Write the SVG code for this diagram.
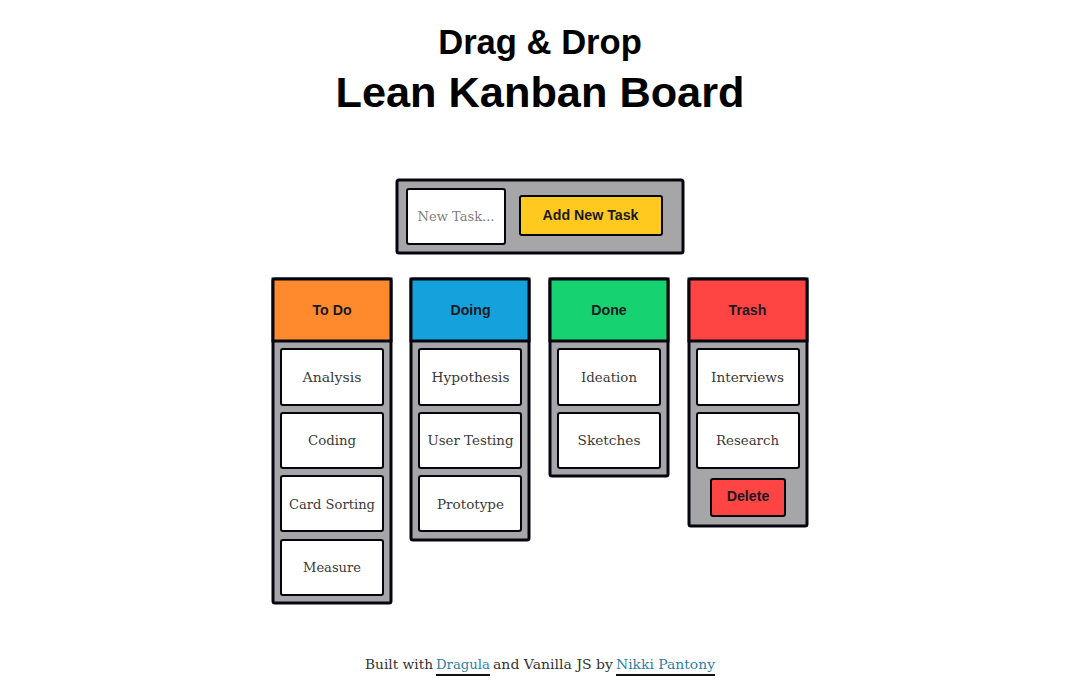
<svg xmlns="http://www.w3.org/2000/svg" width="1080" height="685" viewBox="0 0 1080 685">
<style>
.t{font-family:"Liberation Sans",Arial,sans-serif;font-weight:700;text-anchor:middle;fill:#000}
.box{fill:#a6a6a8;stroke:#05050f;stroke-width:3}
.card{fill:#fff;stroke:#05050f;stroke-width:2}
.hd{stroke:#05050f;stroke-width:3}
.lb{font-family:"Liberation Sans",Arial,sans-serif;font-weight:700;font-size:14.2px;text-anchor:middle;fill:#1a1a22}
.s{font-family:"DejaVu Serif",serif;font-size:13.5px;text-anchor:middle;fill:#3a3a3a}
.f{font-family:"DejaVu Serif",serif;font-size:13.5px;fill:#333}
.a{fill:#2f7fa8}
.u{stroke:#111;stroke-width:2}
</style>
<rect width="1080" height="685" fill="#fff"/>
<g id="title">
<text class="t" x="540" y="54" font-size="34.600">Drag &amp; Drop</text>
<text class="t" x="540" y="106.500" font-size="43.300">Lean Kanban Board</text>
</g>
<g id="new-task">
<rect class="box" x="397" y="180" width="286" height="73" rx="2"/>
<rect class="card" x="407" y="189" width="98" height="55" rx="2"/>
<text x="456" y="221" text-anchor="middle" font-family="DejaVu Serif,serif" font-size="13.5" fill="#808080" textLength="77" lengthAdjust="spacingAndGlyphs">New Task...</text>
<rect x="520" y="196" width="142" height="39" rx="2" fill="#ffc91f" stroke="#05050f" stroke-width="2"/>
<text class="lb" x="590.500" y="220">Add New Task</text>
</g>
<g id="col-todo">
<rect class="box" x="273" y="279" width="118" height="324" rx="2"/>
<rect class="hd" x="273" y="279" width="118" height="62" fill="#ff8a2e"/>
<text class="lb" x="332" y="315">To Do</text>
<rect class="card" x="281" y="349" width="102" height="56" rx="2"/><text class="s" x="332" y="382" textLength="59" lengthAdjust="spacingAndGlyphs">Analysis</text>
<rect class="card" x="281" y="413" width="102" height="55" rx="2"/><text class="s" x="332" y="445" textLength="48" lengthAdjust="spacingAndGlyphs">Coding</text>
<rect class="card" x="281" y="476" width="102" height="55" rx="2"/><text class="s" x="332" y="509" textLength="86" lengthAdjust="spacingAndGlyphs">Card Sorting</text>
<rect class="card" x="281" y="540" width="102" height="55" rx="2"/><text class="s" x="332" y="572" textLength="58" lengthAdjust="spacingAndGlyphs">Measure</text>
</g>
<g id="col-doing">
<rect class="box" x="411" y="279" width="118" height="261" rx="2"/>
<rect class="hd" x="411" y="279" width="118" height="62" fill="#15a2dc"/>
<text class="lb" x="470.500" y="315">Doing</text>
<rect class="card" x="419" y="349" width="102" height="56" rx="2"/><text class="s" x="470.500" y="382" textLength="78" lengthAdjust="spacingAndGlyphs">Hypothesis</text>
<rect class="card" x="419" y="413" width="102" height="55" rx="2"/><text class="s" x="470.500" y="445" textLength="86" lengthAdjust="spacingAndGlyphs">User Testing</text>
<rect class="card" x="419" y="476" width="102" height="55" rx="2"/><text class="s" x="470.500" y="509" textLength="67" lengthAdjust="spacingAndGlyphs">Prototype</text>
</g>
<g id="col-done">
<rect class="box" x="550" y="279" width="118" height="197" rx="2"/>
<rect class="hd" x="550" y="279" width="118" height="62" fill="#17d271"/>
<text class="lb" x="609" y="315">Done</text>
<rect class="card" x="558" y="349" width="102" height="56" rx="2"/><text class="s" x="609" y="382" textLength="56" lengthAdjust="spacingAndGlyphs">Ideation</text>
<rect class="card" x="558" y="413" width="102" height="55" rx="2"/><text class="s" x="609" y="445" textLength="63" lengthAdjust="spacingAndGlyphs">Sketches</text>
</g>
<g id="col-trash">
<rect class="box" x="689" y="279" width="118" height="247" rx="2"/>
<rect class="hd" x="689" y="279" width="118" height="62" fill="#ff4444"/>
<text class="lb" x="747.500" y="315">Trash</text>
<rect class="card" x="697" y="349" width="102" height="56" rx="2"/><text class="s" x="747.500" y="382" textLength="73" lengthAdjust="spacingAndGlyphs">Interviews</text>
<rect class="card" x="697" y="413" width="102" height="55" rx="2"/><text class="s" x="747.500" y="445" textLength="63" lengthAdjust="spacingAndGlyphs">Research</text>
<rect x="711" y="479" width="74" height="37" rx="2" fill="#ff4444" stroke="#05050f" stroke-width="2"/>
<text class="lb" x="748" y="501">Delete</text>
</g>
<g id="footer">
<text class="f" x="365" y="669" textLength="68" lengthAdjust="spacingAndGlyphs">Built with</text>
<text class="f a" x="436" y="669" textLength="54" lengthAdjust="spacingAndGlyphs">Dragula</text>
<text class="f" x="493" y="669" textLength="120" lengthAdjust="spacingAndGlyphs">and Vanilla JS by</text>
<text class="f a" x="616" y="669" textLength="99" lengthAdjust="spacingAndGlyphs">Nikki Pantony</text>
<line class="u" x1="436" y1="675" x2="490" y2="675"/>
<line class="u" x1="616" y1="675" x2="715" y2="675"/>
</g>
</svg>
